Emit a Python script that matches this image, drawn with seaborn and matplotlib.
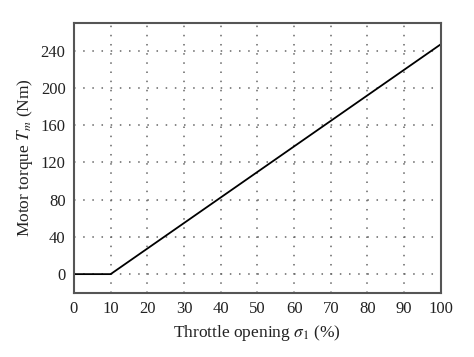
import numpy as np
import pandas as pd
import seaborn as sns
import matplotlib
matplotlib.use("Agg")
import matplotlib.pyplot as plt

# throttle-torque curve breakpoints
throttle = [0, 10, 100]
torque = [0, 0, 247]

x_ticks = list(range(0, 101, 10))
y_ticks = [0, 40, 80, 120, 160, 200, 240]

sns.set_style("white")
plt.rcParams['font.family'] = ['Liberation Serif', 'DejaVu Serif']
plt.rcParams['mathtext.fontset'] = 'stix'

df = pd.DataFrame({"throttle": throttle, "torque": torque})

fig = plt.figure(figsize=(4.74, 3.57), dpi=100)
ax = fig.add_axes([0.156, 0.180, 0.774, 0.756])

sns.lineplot(data=df, x="throttle", y="torque", color="black", linewidth=1.3, ax=ax)

ax.set_xlim(0, 100)
ax.set_ylim(-20, 270)
ax.set_xticks(x_ticks)
ax.set_yticks(y_ticks)
ax.grid(True, linestyle=(0, (1, 5)), color="#666666", linewidth=1.1)
ax.tick_params(direction="in", length=5, width=1.2, colors="#333333",
               labelsize=12, labelcolor="#222222", pad=6)
for s in ax.spines.values():
    s.set_color("#555555")
    s.set_linewidth(1.5)

ax.set_xlabel(r"Throttle opening $\sigma_1$ (%)", fontsize=12.5, color="#222222")
ax.set_ylabel(r"Motor torque $T_m$ (Nm)", fontsize=12.5, color="#222222")

fig.savefig("out.png", dpi=100)
